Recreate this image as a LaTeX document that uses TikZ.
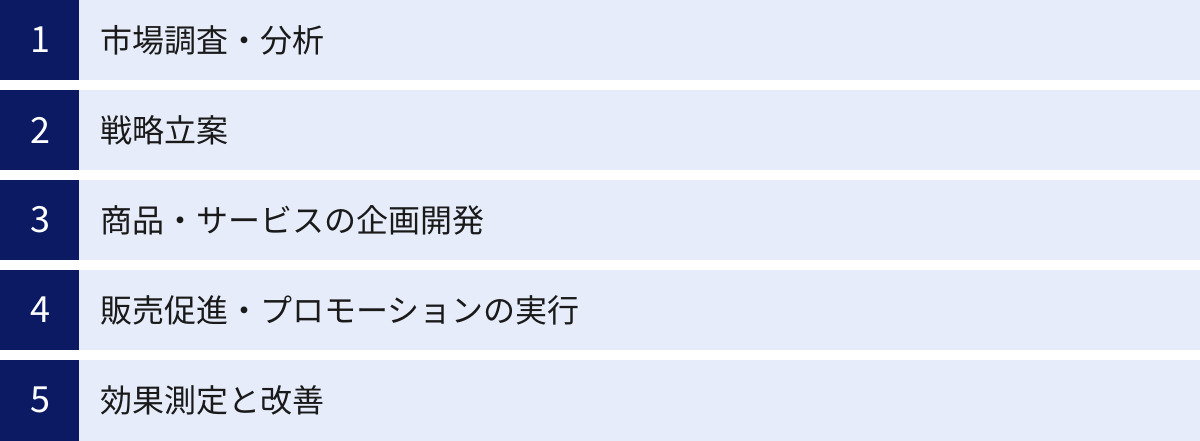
\documentclass[tikz,border=0pt]{standalone}
\usepackage{fontspec}
\setmainfont{Noto Sans CJK JP}
\definecolor{navy}{HTML}{0B1A63}
\definecolor{pale}{HTML}{E6ECF9}
\definecolor{ink}{HTML}{1A1A1A}
\begin{document}
\begin{tikzpicture}[x=1pt,y=-1pt,
  numbox/.style={fill=navy,draw=none},
  rowbox/.style={fill=pale,draw=none},
  numtxt/.style={text=white,font=\fontsize{36}{36}\selectfont,anchor=center,inner sep=0},
  labtxt/.style={text=ink,font=\fontsize{32}{32}\selectfont,anchor=west,inner sep=0}]
\useasboundingbox (0,0) rectangle (1200,441);
\foreach \i/\t [count=\k from 0] in {1/市場調査・分析,2/戦略立案,3/商品・サービスの企画開発,4/販売促進・プロモーションの実行,5/効果測定と改善}{
  \pgfmathsetmacro{\top}{\k*90}
  \pgfmathsetmacro{\bot}{\k==4 ? 441 : \k*90+80}
  \pgfmathsetmacro{\mid}{\k*90+40}
  \fill[rowbox] (79,\top) rectangle (1200,\bot);
  \fill[numbox] (0,\top) rectangle (79,\bot);
  \node[numtxt] (n\i) at (40,\mid) {\i};
  \node[labtxt] (t\i) at (100,\mid) {\t};
}
\end{tikzpicture}
\end{document}
